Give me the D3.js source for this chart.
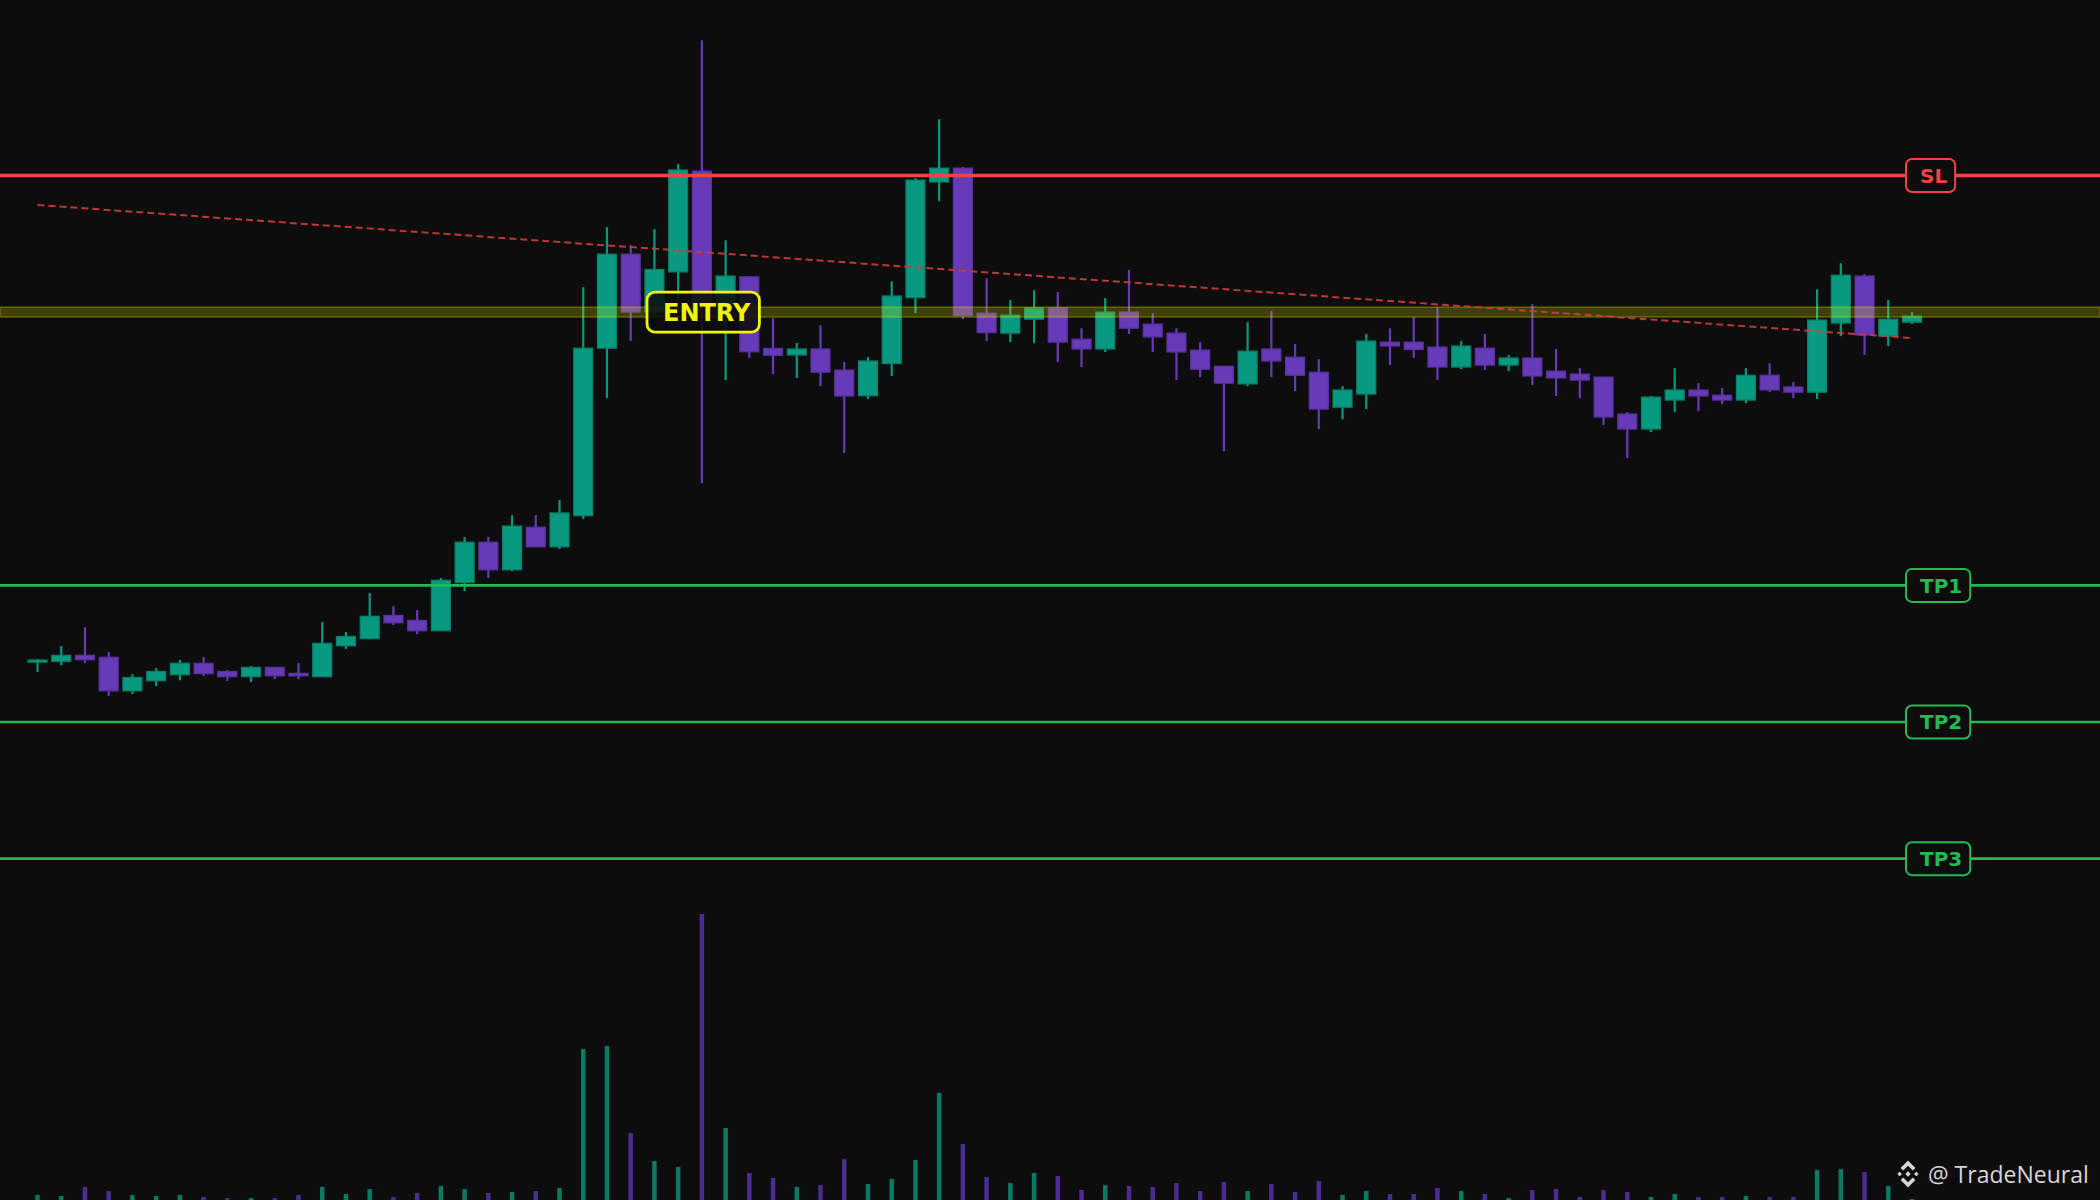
<!DOCTYPE html>
<html><head><meta charset="utf-8">
<script src="https://cdn.jsdelivr.net/npm/d3@7/dist/d3.min.js"></script>
<style>html,body{margin:0;padding:0;background:#0d0d0d;overflow:hidden}</style>
</head><body><svg id="c" width="2100" height="1200"></svg>
<script>
// ---- data (price units) ----
const openP  = [87.19,87.22,87.44,87.37,86.14,86.51,86.73,87.15,86.85,86.66,87.00,86.78,86.66,87.79,88.05,88.90,88.72,88.34,90.10,91.58,
                90.57,92.13,91.41,92.55,98.68,102.12,100.01,101.47,105.16,100.26,101.29,98.67,98.43,98.65,97.88,96.94,98.12,100.53,104.76,105.27,
                99.96,99.23,99.74,100.15,99.01,98.65,100.00,99.56,99.23,98.61,98.02,97.37,98.65,98.35,97.80,96.52,97.00,98.90,98.90,98.72,
                97.99,98.68,98.06,98.32,97.84,97.73,97.62,96.27,95.72,96.78,97.15,96.96,96.78,97.69,97.26,97.07,99.60,101.32,99.12,99.63];
const highP  = [87.30,87.78,88.47,87.56,86.75,86.97,87.27,87.38,86.90,87.05,87.01,87.16,88.66,88.29,89.72,89.24,89.10,90.27,91.77,91.77,
                92.57,92.57,93.12,100.91,103.11,102.45,103.04,105.42,109.95,102.63,101.32,99.78,98.87,99.52,98.17,98.35,101.13,104.90,107.06,105.31,
                101.24,100.44,100.80,100.73,99.41,100.51,101.54,99.96,99.41,98.90,98.02,99.63,100.04,98.83,98.28,97.29,99.20,99.41,99.82,100.18,
                98.94,99.20,98.43,100.29,98.65,97.95,97.62,96.34,96.93,97.95,97.40,97.22,97.95,98.13,97.44,100.84,101.79,101.39,100.44,100.00];
const lowP   = [86.83,87.08,87.16,85.95,86.02,86.32,86.53,86.68,86.50,86.46,86.57,86.57,86.64,87.67,88.03,88.55,88.22,88.33,89.79,90.27,
                90.52,91.40,91.33,92.43,96.85,98.94,99.85,100.51,93.74,97.51,98.32,97.73,97.59,97.29,94.84,96.82,97.66,99.96,104.06,99.74,
                98.94,98.90,98.87,98.17,97.99,98.54,99.20,98.54,97.51,97.62,94.91,97.29,97.62,97.11,95.72,96.08,96.45,98.06,98.32,97.51,
                97.91,97.88,97.84,97.33,96.93,96.85,95.87,94.66,95.61,96.34,96.38,96.63,96.67,97.07,96.85,96.82,99.12,98.43,98.76,99.56];
const closeP = [87.27,87.44,87.28,86.14,86.63,86.85,87.15,86.77,86.66,87.00,86.69,86.69,87.88,88.13,88.87,88.63,88.34,90.19,91.58,90.57,
                92.17,91.41,92.65,98.68,102.12,100.00,101.56,105.20,100.26,101.32,98.55,98.42,98.65,97.80,96.93,98.21,100.59,104.83,105.27,99.87,
                99.25,99.89,100.15,98.90,98.65,100.00,99.41,99.09,98.54,97.91,97.40,98.57,98.21,97.69,96.45,97.15,98.94,98.76,98.63,97.99,
                98.76,98.06,98.32,97.66,97.59,97.51,96.16,95.72,96.89,97.15,96.93,96.78,97.69,97.15,97.07,99.71,101.35,99.16,99.74,99.85];
const volume = [50,40,130,90,50,40,50,30,20,20,20,50,130,60,110,30,70,140,110,70,
                80,90,120,1510,1540,670,390,330,2860,720,270,220,130,150,410,160,210,400,1070,560,
                230,170,270,240,100,150,140,130,170,90,180,90,160,80,190,50,90,60,60,120,
                90,60,20,100,110,30,100,80,30,60,30,30,40,30,30,300,310,280,140,10];
const entryPrice = 100.00;
const slPrice = 105.00;
const tpPrices = [90.00, 85.00, 80.00];
const tpLabels = ["TP1", "TP2", "TP3"];
const trendPrices = [103.92, 99.05];   // dashed trend line: first bar -> last bar
const entryLabelBar = 28;
const watermark = "@ TradeNeural";

// ---- drawing ----
const W = 2100, H = 1200;
const UP = "#089981", UP_S = "#0a7f6a", DN = "#673ab7", DN_S = "#5a31a3";
const RED = "#ef4444", GREEN = "#1fbb57", YEL = "#f2f20a";
const svg = d3.select("#c");
svg.append("rect").attr("width", W).attr("height", H).attr("fill", "#0d0d0d");

const n = openP.length;
const idx = d3.range(n);
const x = d3.scaleLinear().domain([0, n - 1]).range([37.5, 1912]);
const y = d3.scaleLinear().domain([67.51, 111.42]).range([H, 0]);
const yv = d3.scaleLinear().domain([0, 3000]).range([H, 900]);
const bodyW = 19, volW = 4.5;
const isUp = i => closeP[i] >= openP[i];

// volume
svg.append("g").selectAll("rect").data(idx).join("rect")
  .attr("x", i => x(i) - volW / 2)
  .attr("y", i => yv(volume[i]))
  .attr("width", volW)
  .attr("height", i => H - yv(volume[i]))
  .attr("fill", i => isUp(i) ? "#0a7a66" : "#4c2b93");

// candles
const cg = svg.append("g");
cg.selectAll("line").data(idx).join("line")
  .attr("x1", i => x(i)).attr("x2", i => x(i))
  .attr("y1", i => y(highP[i])).attr("y2", i => y(lowP[i]))
  .attr("stroke", i => isUp(i) ? UP : DN).attr("stroke-width", 2.2);
cg.selectAll("rect").data(idx).join("rect")
  .attr("x", i => x(i) - bodyW / 2)
  .attr("y", i => y(Math.max(openP[i], closeP[i])))
  .attr("width", bodyW)
  .attr("height", i => Math.max(2, y(Math.min(openP[i], closeP[i])) - y(Math.max(openP[i], closeP[i]))))
  .attr("fill", i => isUp(i) ? UP : DN)
  .attr("stroke", i => isUp(i) ? UP_S : DN_S).attr("stroke-width", 1.2);

// entry band
const ye = y(entryPrice);
svg.append("rect").attr("x", 0).attr("y", ye - 5).attr("width", W).attr("height", 10)
  .attr("fill", "rgba(240,240,0,0.22)").attr("stroke", "rgba(240,240,0,0.28)").attr("stroke-width", 1.6);

// trend dashed line
svg.append("line")
  .attr("x1", x(0)).attr("y1", y(trendPrices[0]))
  .attr("x2", x(n - 1)).attr("y2", y(trendPrices[1]))
  .attr("stroke", "#d23c3c").attr("stroke-opacity", 0.9).attr("stroke-width", 2)
  .attr("stroke-dasharray", "7,4");

// SL / TP lines
svg.append("line").attr("x1", 0).attr("x2", W).attr("y1", y(slPrice)).attr("y2", y(slPrice))
  .attr("stroke", RED).attr("stroke-width", 3.5);
svg.append("g").selectAll("line").data(tpPrices).join("line")
  .attr("x1", 0).attr("x2", W).attr("y1", d => y(d)).attr("y2", d => y(d))
  .attr("stroke", GREEN).attr("stroke-width", 2.6);

// label helper
function tag(txt, cx, cy, color, size, padL, padR, h, rx, sw, fill) {
  const g = svg.append("g");
  const r = g.append("rect");
  const t = g.append("text").text(txt)
    .attr("font-family", "DejaVu Sans").attr("font-weight", "bold")
    .attr("font-size", size).attr("fill", color);
  const tw = t.node().getComputedTextLength();
  t.attr("x", cx + padL).attr("y", cy + size * 0.36);
  r.attr("x", cx).attr("y", cy - h / 2).attr("width", tw + padL + padR).attr("height", h)
    .attr("rx", rx).attr("fill", fill).attr("stroke", color).attr("stroke-width", sw);
}
// ENTRY label
tag("ENTRY", 647, ye, YEL, 24, 16, 9, 40, 8, 2.8, "rgba(13,13,13,0.88)");
// SL / TP labels
tag("SL", 1906, y(slPrice), RED, 20, 14, 8, 33, 6, 2, "#0d0d0d");
tpPrices.forEach((p, k) => tag(tpLabels[k], 1906, y(p), GREEN, 20, 14, 8, 33, 6, 2, "#0d0d0d"));

// watermark
const wm = svg.append("g").attr("fill", "#d8d5da");
const lx = 1908, ly = 1174, s = 13.5;
const dia = (cx, cy, r) => `M${cx},${cy - r}L${cx + r},${cy}L${cx},${cy + r}L${cx - r},${cy}Z`;
wm.append("path").attr("d", dia(lx, ly, s * 0.2));
wm.append("path").attr("d", dia(lx - s * 0.62, ly, s * 0.17));
wm.append("path").attr("d", dia(lx + s * 0.62, ly, s * 0.17));
const chev = sgn => `M${lx},${ly + sgn * -s}L${lx + s * 0.55},${ly + sgn * -s * 0.45}L${lx + s * 0.36},${ly + sgn * -s * 0.26}L${lx},${ly + sgn * -s * 0.62}L${lx - s * 0.36},${ly + sgn * -s * 0.26}L${lx - s * 0.55},${ly + sgn * -s * 0.45}Z`;
wm.append("path").attr("d", chev(1));
wm.append("path").attr("d", chev(-1));
wm.append("text").text(watermark).attr("x", 1928).attr("y", 1183)
  .attr("font-family", "Open Sans").attr("font-size", 23);
</script></body></html>
